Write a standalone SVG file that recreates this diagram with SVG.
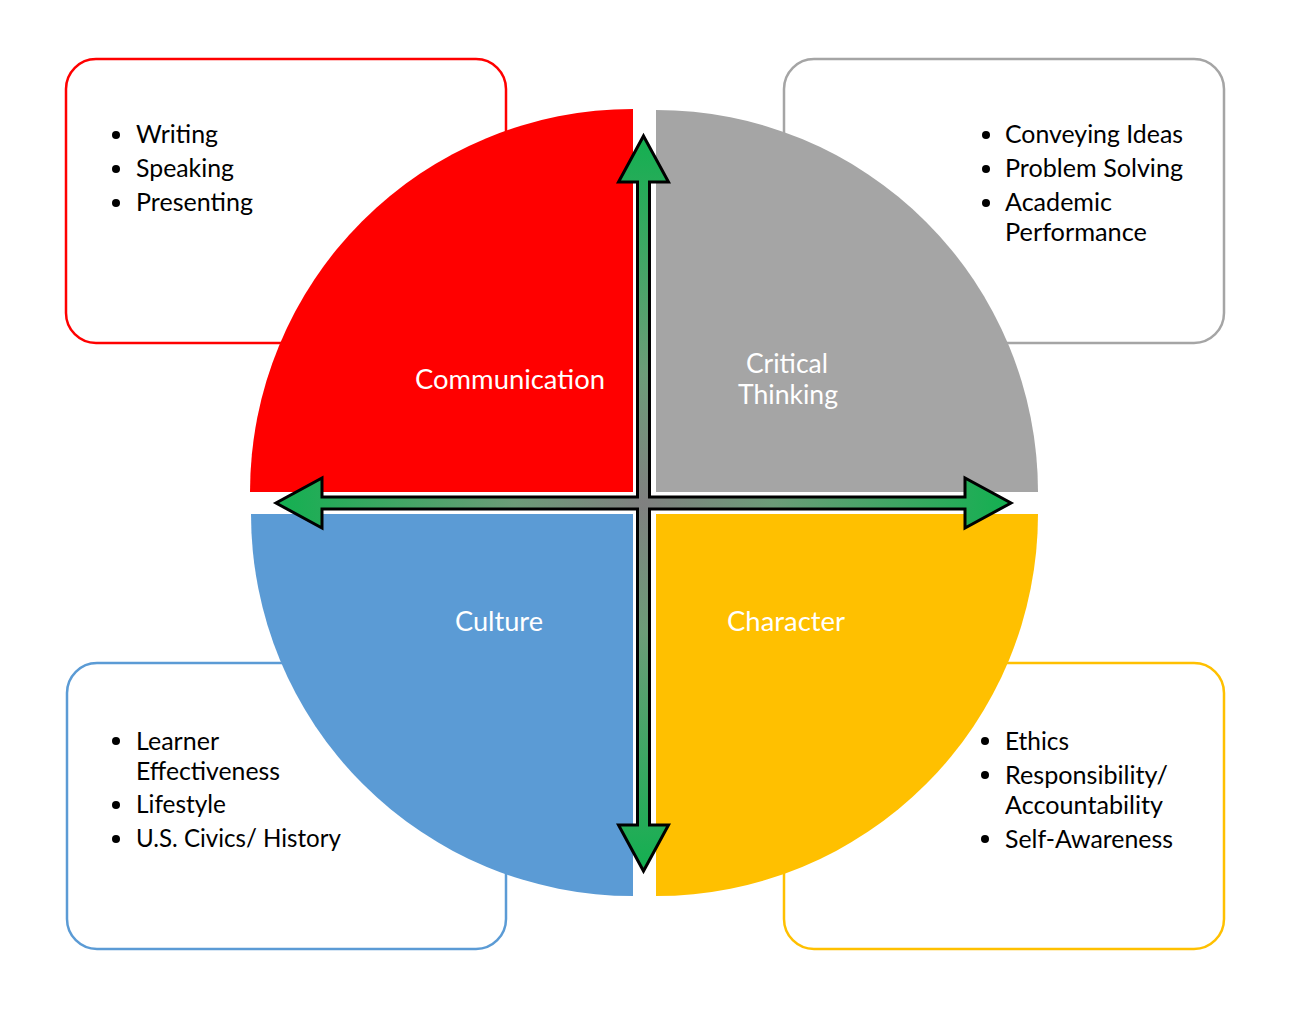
<svg xmlns="http://www.w3.org/2000/svg" width="1310" height="1027" viewBox="0 0 1310 1027">
<style>
.box{fill:#ffffff;stroke-width:2.5}
.item{font-family:Lato,"Liberation Sans",sans-serif;font-size:25px;fill:#000000}
.lbl{font-family:Lato,"Liberation Sans",sans-serif;font-size:27px;fill:#ffffff}
.dot{fill:#000000}
</style>
<defs>
<radialGradient id="crossFill" gradientUnits="userSpaceOnUse" cx="643.5" cy="503" r="370">
<stop offset="0" stop-color="#808080"/>
<stop offset="0.35" stop-color="#6c9c78"/>
<stop offset="1" stop-color="#12b050"/>
</radialGradient>
</defs>
<rect width="1310" height="1027" fill="#ffffff"/>

<g id="box-communication">
<rect class="box" x="66" y="59" width="440" height="284" rx="30" stroke="#ff0000"/>
<circle class="dot" cx="116" cy="135" r="4"/>
<circle class="dot" cx="116" cy="169" r="4"/>
<circle class="dot" cx="116" cy="203" r="4"/>
<text class="item" x="136" y="143" textLength="82" lengthAdjust="spacingAndGlyphs">Writing</text>
<text class="item" x="136" y="177" textLength="98" lengthAdjust="spacingAndGlyphs">Speaking</text>
<text class="item" x="136" y="211" textLength="117" lengthAdjust="spacingAndGlyphs">Presenting</text>
</g>

<g id="box-critical">
<rect class="box" x="784" y="59" width="440" height="284" rx="30" stroke="#a5a5a5"/>
<circle class="dot" cx="986" cy="135" r="4"/>
<circle class="dot" cx="986" cy="169" r="4"/>
<circle class="dot" cx="986" cy="203" r="4"/>
<text class="item" x="1005" y="143" textLength="178" lengthAdjust="spacingAndGlyphs">Conveying Ideas</text>
<text class="item" x="1005" y="177" textLength="178" lengthAdjust="spacingAndGlyphs">Problem Solving</text>
<text class="item" x="1005" y="211" textLength="107" lengthAdjust="spacingAndGlyphs">Academic</text>
<text class="item" x="1005" y="241" textLength="142" lengthAdjust="spacingAndGlyphs">Performance</text>
</g>

<g id="box-culture">
<rect class="box" x="67" y="663" width="439" height="286" rx="30" stroke="#5b9bd5"/>
<circle class="dot" cx="116" cy="741" r="4"/>
<circle class="dot" cx="116" cy="805" r="4"/>
<circle class="dot" cx="116" cy="839" r="4"/>
<text class="item" x="136" y="750" textLength="83" lengthAdjust="spacingAndGlyphs">Learner</text>
<text class="item" x="136" y="780" textLength="144" lengthAdjust="spacingAndGlyphs">Effectiveness</text>
<text class="item" x="136" y="813" textLength="90" lengthAdjust="spacingAndGlyphs">Lifestyle</text>
<text class="item" x="136" y="847" textLength="205" lengthAdjust="spacingAndGlyphs">U.S. Civics/ History</text>
</g>

<g id="box-character">
<rect class="box" x="784" y="663" width="440" height="286" rx="30" stroke="#ffc000"/>
<circle class="dot" cx="985" cy="741" r="4"/>
<circle class="dot" cx="985" cy="775" r="4"/>
<circle class="dot" cx="985" cy="839" r="4"/>
<text class="item" x="1005" y="750" textLength="64" lengthAdjust="spacingAndGlyphs">Ethics</text>
<text class="item" x="1005" y="784" textLength="163" lengthAdjust="spacingAndGlyphs">Responsibility/</text>
<text class="item" x="1005" y="814" textLength="158" lengthAdjust="spacingAndGlyphs">Accountability</text>
<text class="item" x="1005" y="848" textLength="168" lengthAdjust="spacingAndGlyphs">Self-Awareness</text>
</g>

<g id="communication">
<path d="M633,492 L250,492 A383,383 0 0 1 633,109 Z" fill="#ff0000"/>
<text class="lbl" x="415" y="389" textLength="190" lengthAdjust="spacingAndGlyphs">Communication</text>
</g>
<g id="critical-thinking">
<path d="M656,492 L656,110 A382,382 0 0 1 1038,492 Z" fill="#a5a5a5"/>
<text class="lbl" x="746" y="373" textLength="82" lengthAdjust="spacingAndGlyphs">Critical</text>
<text class="lbl" x="738" y="404" textLength="100" lengthAdjust="spacingAndGlyphs">Thinking</text>
</g>
<g id="culture">
<path d="M633,514 L633,896 A382,382 0 0 1 251,514 Z" fill="#5b9bd5"/>
<text class="lbl" x="455" y="631" textLength="88" lengthAdjust="spacingAndGlyphs">Culture</text>
</g>
<g id="character">
<path d="M656,514 L1038,514 A382,382 0 0 1 656,896 Z" fill="#ffc000"/>
<text class="lbl" x="727" y="631" textLength="118" lengthAdjust="spacingAndGlyphs">Character</text>
</g>

<g id="connectors">
<path d="M643.5,136 L668.5,182 L649.5,182 L649.5,497 L965,497 L965,478 L1011,503 L965,528 L965,509 L649.5,509 L649.5,825 L668.5,825 L643.5,871 L618.5,825 L637.5,825 L637.5,509 L322,509 L322,528 L276,503 L322,478 L322,497 L637.5,497 L637.5,182 L618.5,182 Z" fill="url(#crossFill)" stroke="#000000" stroke-width="3" stroke-linejoin="miter"/>
</g>
</svg>
